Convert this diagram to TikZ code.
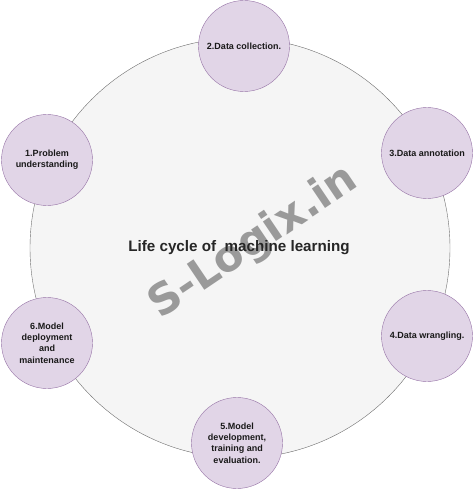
\documentclass[tikz,border=0pt]{standalone}
\usepackage{fontspec}
\setmainfont{Liberation Sans}
\newfontfamily\markfont{DejaVu Sans}
\definecolor{stagefill}{HTML}{E1D5E7}
\definecolor{stageline}{HTML}{9673A6}
\definecolor{ringfill}{HTML}{F5F5F5}
\definecolor{ringline}{HTML}{6E6E6E}
\definecolor{markgray}{HTML}{9A9A9A}

\begin{document}
\begin{tikzpicture}[x=1pt,y=-1pt,
		stage/.style={circle, draw=stageline, fill=stagefill, minimum size=91pt, inner sep=1pt, align=center, font=\bfseries\fontsize{9}{11.3}\selectfont, text=black!90}]
			\useasboundingbox (0,0) rectangle (474,489);
			\node[circle, draw=ringline, fill=ringfill, minimum size=420pt] (ring) at (240,248) {};
			\node[rotate=34, text=markgray, font=\markfont\bfseries\fontsize{43}{43}\selectfont] (mark) at (254,243) {S-Logix.in};
			\node[font=\bfseries\fontsize{15.2}{17}\selectfont, text=black!85] (title) at (239,248) {Life cycle of\ \ machine learning};
			\foreach \n/\x/\y/\t in {problem/47/160/{1.Problem\\understanding}, collect/244/46/{2.Data collection.}, annotate/427/153/{3.Data annotation}, wrangle/427/336/{4.Data wrangling.}, develop/237/443/{5.Model\\development,\\training and\\evaluation.}, deploy/47/343/{6.Model\\deployment\\and\\maintenance}}
				\node[stage] (\n) at (\x,\y) {\t};
		\end{tikzpicture}
\end{document}
